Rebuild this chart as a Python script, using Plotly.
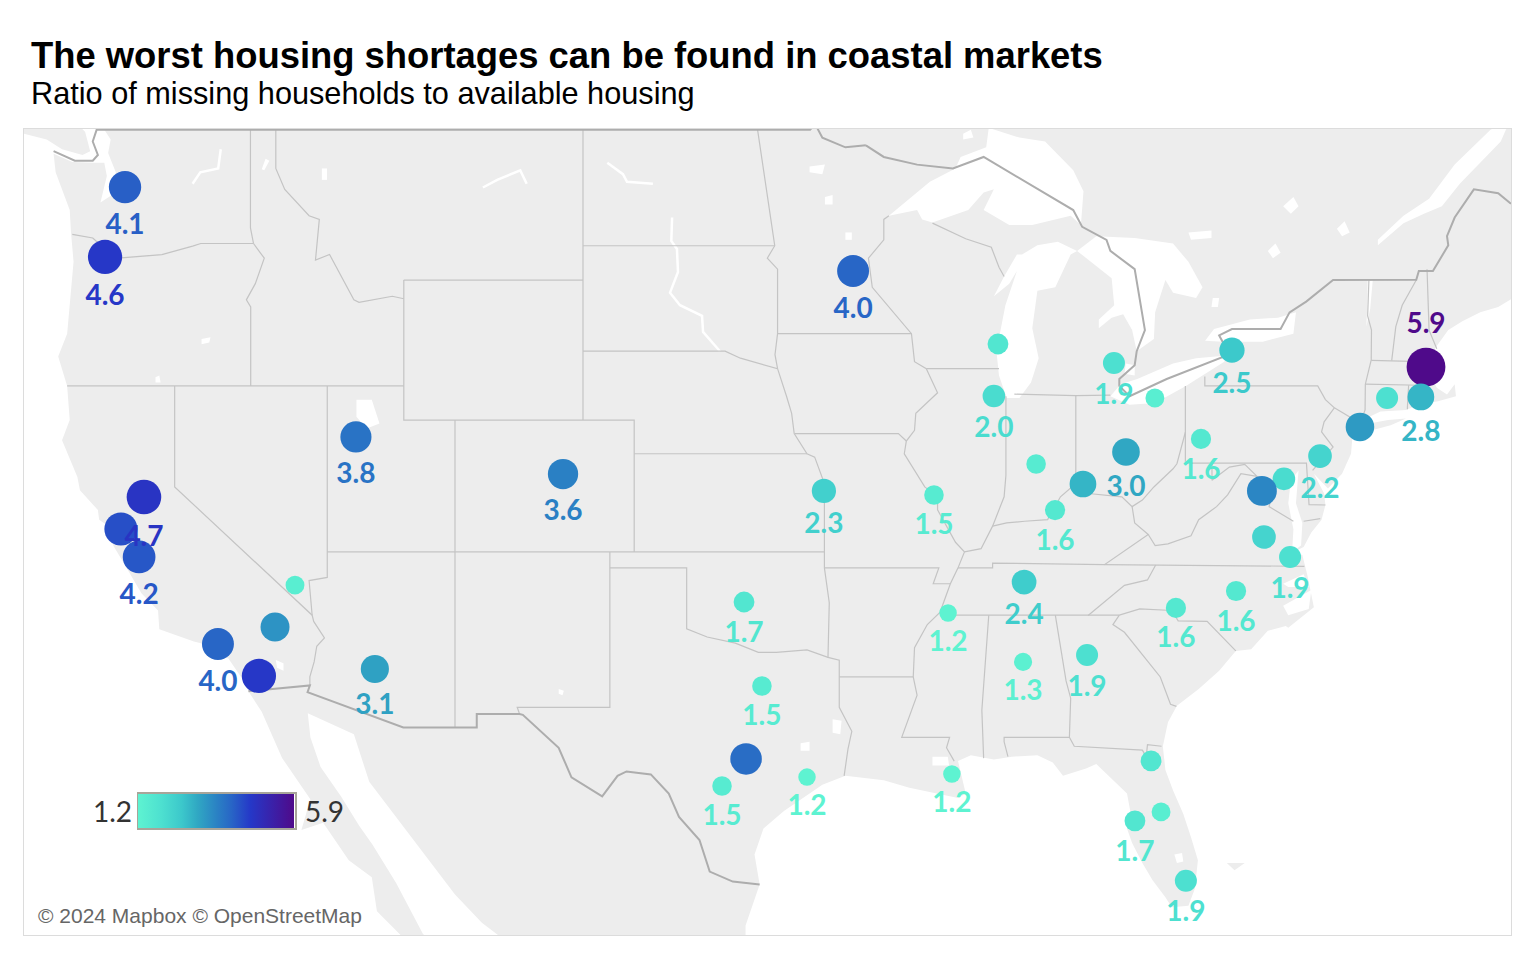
import math
import plotly.graph_objects as go
from plotly.colors import sample_colorscale

# ---------- data ----------
# longitude, web-mercator northing in degrees, ratio, printed label
lon = [-121.94,-122.72,-93.50,-87.84,-83.31,-78.70,-71.12,-72.64,-71.32,-81.71,
       -88.00,-73.70,-112.92,-82.84,-79.91,-75.26,-104.83,-86.35,-76.67,-84.52,
       -77.53,-94.64,-90.34,-121.20,-85.61,-122.10,-121.39,-77.45,-76.43,-115.30,
       -86.82,-78.54,-80.89,-89.79,-97.76,-116.08,-118.31,-86.86,-84.36,-116.71,
       -112.18,-97.06,-97.68,-98.62,-95.30,-89.64,-81.86,-81.47,-82.49,-80.50]
north = [54.13,51.40,50.85,48.00,47.26,47.76,47.10,45.89,45.93,45.89,
         45.97,44.76,44.37,43.78,44.29,43.62,42.92,43.31,42.73,42.53,
         42.26,42.26,42.10,42.02,41.51,40.77,39.68,40.46,39.68,38.58,
         38.70,38.35,37.69,37.49,37.92,36.94,36.28,35.58,35.85,35.03,
         35.30,34.64,31.79,30.73,31.08,31.20,31.71,29.72,29.37,27.03]
ratio = [4.1,4.6,4.0,1.7,1.9,2.5,5.9,1.9,2.8,1.4,
         2.0,3.2,3.8,3.0,1.6,2.2,3.6,1.5,2.0,2.8,
         3.5,2.3,1.5,4.7,1.6,4.3,4.2,2.2,1.9,1.4,
         2.4,1.6,1.6,1.2,1.7,3.3,4.0,1.3,1.9,4.6,
         3.1,1.5,3.9,1.5,1.2,1.2,1.7,1.4,1.7,1.9]
labelled = [1,1,1,0,1,1,1,0,1,0,
            1,0,1,1,1,1,1,0,0,0,
            0,1,1,1,1,0,1,0,1,0,
            1,1,1,1,1,0,1,1,1,0,
            1,1,0,1,1,1,0,0,1,1]
label_above = [6]

TITLE = "The worst housing shortages can be found in coastal markets"
SUBTITLE = "Ratio of missing households to available housing"
CREDIT = "© 2024 Mapbox © OpenStreetMap"
LEG_MIN, LEG_MAX = "1.2", "5.9"

# ---------- base map, (lon, lat) ----------
land_outline = [
 (-60,53),(-122.9,53),(-122.75,49.0),(-122.5,48.75),(-122.6,48.4),(-122.3,47.9),(-122.45,47.3),(-122.9,47.1),
 (-122.65,47.8),(-122.75,48.15),(-123.2,48.15),(-124.0,48.17),(-124.73,48.38),(-124.65,47.9),(-124.1,46.9),
 (-124.05,46.3),(-123.95,45.5),(-124.07,44.6),(-124.2,43.5),(-124.55,42.85),(-124.2,42.0),(-124.1,41.0),
 (-124.4,40.4),(-123.8,39.3),(-123.7,38.9),(-123.0,38.3),(-122.95,38.0),(-122.5,37.75),(-122.4,37.2),
 (-121.95,36.6),(-121.3,35.7),(-120.65,35.15),(-120.6,34.55),(-119.25,34.15),(-118.5,34.0),(-118.4,33.75),
 (-117.9,33.6),(-117.25,32.8),(-117.12,32.53),(-116.6,31.85),(-115.8,30.3),(-114.7,28.9),(-115.05,27.85),
 (-114.2,28.1),(-113.2,26.8),(-112.3,26.2),(-112.1,25.0),(-111.0,24.0),(-109.9,22.9),(-109.45,23.4),
 (-110.3,24.2),(-111.35,26.0),(-112.27,27.34),(-112.8,28.0),(-113.5,29.0),(-114.3,30.0),(-114.7,31.0),
 (-114.8,31.8),(-113.55,31.3),(-113.0,31.1),(-112.4,29.5),(-111.0,27.9),(-109.05,25.6),(-108,24.6),(-107,23.9),
 (-105.8,22.5),(-105,20),(-97,20),(-97.7,22.3),(-97.7,24.5),(-97.15,25.95),(-97.35,27.0),(-97.0,27.9),(-96.2,28.5),
 (-95.0,29.2),(-94.7,29.4),(-93.8,29.7),(-92.3,29.55),(-91.3,29.3),(-90.2,29.1),(-89.4,28.95),(-89.1,29.1),
 (-89.4,30.2),(-88.9,30.4),(-88.0,30.25),(-87.3,30.35),(-86.3,30.4),(-85.7,30.15),(-85.3,29.7),(-84.4,29.95),
 (-84.0,30.1),(-83.4,29.6),(-82.8,29.1),(-82.65,28.4),(-82.8,27.9),(-82.6,27.4),(-82.2,26.7),(-81.8,26.1),
 (-81.3,25.5),(-81.05,25.15),(-80.4,25.2),(-80.15,25.8),(-80.03,26.8),(-80.3,27.6),(-80.6,28.4),(-81.0,29.2),
 (-81.3,29.9),(-81.4,30.7),(-81.2,31.5),(-80.85,32.05),(-80.0,32.6),(-79.2,33.2),(-78.55,33.85),(-77.95,33.9),
 (-77.3,34.5),(-76.6,34.65),(-76.5,34.6),(-75.5,35.25),(-75.75,36.25),(-75.95,36.9),(-76.3,37.0),(-75.9,37.15),
 (-75.6,37.6),(-75.2,38.0),(-75.05,38.45),(-75.1,38.8),(-75.5,39.4),(-74.95,38.95),(-74.4,39.4),(-74.05,40.0),
 (-74.0,40.45),(-74.05,40.6),(-73.75,40.6),(-72.5,40.85),(-71.9,41.05),(-72.6,41.0),(-73.7,40.85),(-73.6,41.0),
 (-72.9,41.25),(-71.9,41.3),(-71.4,41.45),(-71.1,41.5),(-70.65,41.55),(-69.95,41.7),(-70.0,42.05),(-70.3,41.75),
 (-70.7,41.95),(-70.95,42.35),(-70.7,42.65),(-70.8,43.05),(-70.25,43.6),(-69.7,43.85),(-69.0,44.1),(-68.3,44.25),
 (-67.6,44.55),(-67.0,44.85),(-66.9,45.1),(-66.0,45.25),(-64,46),(-60,47)]
vancouver_island = [(-126.5,49.0),(-125,48.75),(-124.4,48.5),(-123.6,48.35),(-123.3,48.45),(-123.5,48.95),(-124.2,49.4),(-125,50),(-126.5,50)]
bahamas = [(-78.9,26.7),(-78.2,26.7),(-78.6,26.45)]

waters = [
 [(-92.1,46.75),(-91,46.9),(-90.8,46.65),(-90.4,46.57),(-89,46.9),(-88.4,47.37),(-88.0,47.45),(-88.4,46.9),(-87.4,46.5),
  (-86.5,46.5),(-85,46.75),(-84.6,46.5),(-84.5,47.4),(-84.9,47.95),(-86.0,48.7),(-87.0,48.8),(-88.2,49.05),(-88.3,48.55),
  (-89.3,48.3),(-89.5,48.0),(-90.5,47.65)],
 [(-87.5,41.65),(-87.0,41.65),(-86.55,42.1),(-86.25,42.8),(-86.5,43.65),(-86.3,44.7),(-85.6,44.8),(-85.0,45.7),(-84.75,45.8),
  (-85.5,46.05),(-86.3,45.95),(-86.9,45.7),(-87.1,45.7),(-87.6,45.1),(-88.0,44.55),(-87.4,44.9),(-87.1,45.25),(-87.55,44.3),
  (-87.9,43.0),(-87.8,42.3)],
 [(-84.75,45.8),(-84.1,45.45),(-83.4,45.05),(-83.3,44.3),(-83.9,43.9),(-83.9,43.65),(-83.4,43.95),(-82.95,44.05),(-82.6,43.6),
  (-82.42,43.0),(-81.75,43.35),(-81.7,44.1),(-81.3,45.0),(-81.0,44.65),(-80.1,44.5),(-79.85,44.8),(-80.4,45.5),(-81.0,46.0),
  (-82.5,46.15),(-84.0,46.2)],
 [(-83.45,41.7),(-82.7,41.45),(-81.7,41.5),(-80.5,42),(-79.0,42.7),(-78.9,42.88),(-80.1,42.8),(-81.0,42.65),(-82.4,42.2),(-83.05,42.05)],
 [(-79.75,43.3),(-79.05,43.27),(-77.5,43.27),(-76.3,43.5),(-76.2,44.1),(-76.9,43.95),(-78.0,43.9),(-79.4,43.63)],
 [(-82.85,42.65),(-82.5,42.6),(-82.5,42.3),(-82.9,42.35)],
 [(-73,45.95),(-72,46.55),(-71.2,46.8),(-70.5,47.0),(-69.8,47.6),(-68.2,48.7),(-68,49),(-67.5,49.4),(-68.6,49.0),(-70,48.1),(-71,47.2),(-72,46.75),(-73,46.1)],
 [(-76.4,39.2),(-76.1,39.5),(-76.2,38.5),(-75.95,37.9),(-76.0,37.2),(-76.35,37.0),(-76.3,37.7),(-76.5,38.5)],
 [(-76.7,36.0),(-75.9,36.3),(-75.7,35.9),(-76.5,35.9)],
 [(-76.7,35.3),(-75.6,35.8),(-75.7,35.2),(-76.5,35.0)],
 [(-112.9,41.6),(-112.3,41.6),(-112.0,40.9),(-112.5,40.75),(-112.9,41.1)],
 [(-80.95,27.0),(-80.65,27.05),(-80.6,26.75),(-80.85,26.7)],
 [(-116.05,33.55),(-115.75,33.45),(-115.75,33.2),(-116.0,33.3)],
 [(-90.4,30.35),(-89.8,30.35),(-89.75,30.05),(-90.4,30.05)],
 [(-73.4,45.0),(-73.2,45.0),(-73.3,44.2),(-73.45,43.7),(-73.42,44.2)],
 [(-79.45,44.5),(-79.2,44.5),(-79.25,44.25),(-79.5,44.25)],
 [(-80.4,46.3),(-79.5,46.35),(-79.5,46.15),(-80.3,46.1)],
 [(-116.45,48.25),(-116.3,48.2),(-116.5,47.95),(-116.6,47.98)],
 [(-114.25,48.0),(-114.05,48.0),(-114.05,47.7),(-114.25,47.7)],
 [(-95.2,48.05),(-94.6,48.1),(-94.7,47.85),(-95.2,47.9)],
 [(-94.6,47.25),(-94.3,47.3),(-94.3,47.05),(-94.6,47.05)],
 [(-93.8,46.3),(-93.55,46.3),(-93.55,46.1),(-93.8,46.1)],
 [(-118.95,43.35),(-118.6,43.4),(-118.65,43.25),(-118.95,43.2)],
 [(-120.75,42.25),(-120.6,42.3),(-120.55,42.1),(-120.75,42.1)],
 [(-95.55,30.8),(-95.2,30.85),(-95.2,30.55),(-95.55,30.55)],
 [(-94.3,31.6),(-93.95,31.55),(-94.0,31.1),(-94.3,31.15)],
 [(-105.0,32.6),(-104.8,32.55),(-104.85,32.4),(-105.0,32.45)],
 [(-89.2,48.9),(-88.9,49.0),(-88.8,48.8),(-89.2,48.75)],
 [(-77.3,45.8),(-77.0,46.0),(-76.8,45.75),(-77.1,45.6)],
 [(-74.6,46.4),(-74.3,46.6),(-74.1,46.3),(-74.4,46.2)],
 [(-76.7,47.0),(-76.3,47.25),(-76.1,47.0),(-76.4,46.8)],
]
white_rivers = [
 [(-107.96,47.5),(-107.4,47.7),(-106.5,47.95),(-106.25,47.6)],
 [(-103.1,48.15),(-102.49,47.85),(-102.33,47.65),(-101.32,47.6)],
 [(-100.57,46.7),(-100.6,46.07),(-100.38,45.85),(-100.34,45.22),(-100.65,44.65),(-100.26,44.3),(-99.4,44.0),(-99.36,43.55),(-98.7,43.0)],
 [(-119.3,47.6),(-119.0,47.9),(-118.3,48.0),(-118.2,48.5)],
]
state_lines = [
 [(-117.04,49),(-117.04,46.42),(-116.92,46.0)],
 [(-124.0,46.25),(-123.2,46.15),(-122.8,45.9),(-122.7,45.65),(-122.2,45.6),(-121.2,45.65),(-120.5,45.7),(-119.3,45.93),(-118.98,46.0),(-116.92,46.0)],
 [(-116.92,46.0),(-116.5,45.6),(-116.85,44.9),(-117.2,44.45),(-117.03,44.25),(-117.03,42.0)],
 [(-124.2,42),(-111.05,42)],
 [(-120,42),(-120,39),(-114.63,35.0),(-114.57,34.8),(-114.15,34.27),(-114.45,34.0),(-114.55,33.5),(-114.72,33.0),(-114.72,32.72)],
 [(-114.04,42),(-114.04,36.2),(-114.75,36.1),(-114.63,35.0)],
 [(-114.04,37),(-94.62,37)],
 [(-109.05,41),(-109.05,31.33)],
 [(-111.05,45),(-111.05,41),(-102.05,41),(-102.05,37)],
 [(-111.05,45),(-104.05,45)],
 [(-104.05,49),(-104.05,41)],
 [(-104.05,43),(-98.5,43),(-97.9,42.8),(-96.45,42.5),(-96.1,41.7),(-95.9,41.2),(-95.8,40.6),(-95.3,40),(-95.0,39.9),(-94.62,39.1),(-94.62,36.5),(-94.43,35.4),(-94.48,33.64)],
 [(-102.05,40),(-95.3,40)],
 [(-103,37),(-103,32),(-106.62,32),(-106.53,31.78)],
 [(-103,36.5),(-100,36.5),(-100,34.56),(-99.2,34.3),(-98.1,34.1),(-97.2,33.8),(-96.5,33.8),(-95.3,33.88),(-94.48,33.64),(-94.04,33.55),(-94.04,32),(-93.55,31.2),(-93.7,30.6),(-93.85,29.7)],
 [(-104.05,45.94),(-96.56,45.94)],
 [(-116.05,49),(-116.05,48),(-115.7,47.45),(-114.75,46.75),(-114.35,46.65),(-114.5,45.55),(-113.95,45.7),(-113.45,45.05),(-113.0,44.45),(-112.8,44.38),(-111.5,44.55),(-111.05,44.48)],
 [(-97.23,49),(-96.8,47.0),(-96.56,45.94),(-96.85,45.6),(-96.45,45.3),(-96.45,43.5),(-96.55,42.9),(-96.45,42.5)],
 [(-96.45,43.5),(-91.22,43.5)],
 [(-95.77,40.6),(-91.73,40.6),(-91.42,40.38)],
 [(-92.1,46.75),(-92.3,46.65),(-92.3,46.1),(-92.9,45.6),(-92.75,44.8),(-91.22,43.5),(-91.1,42.7),(-90.64,42.5),(-90.2,41.8),(-91.05,41.2),(-91.1,40.7),(-91.42,40.38),(-91.5,40),(-90.7,39),(-90.2,38.7),(-90.2,38.3),(-89.5,37.3),(-89.15,37.0),(-89.4,36.5),(-89.7,36.0),(-90.1,35.1),(-90.6,34.7),(-91.1,33.95),(-91.15,33.0),(-91.0,32.4),(-91.6,31.0),(-89.73,31.0),(-89.85,30.65),(-89.55,30.2)],
 [(-94.62,36.5),(-90.15,36.5),(-90.37,36.0),(-89.7,36)],
 [(-94.04,33.0),(-91.15,33.0)],
 [(-90.4,46.55),(-89.1,46.13),(-88.1,45.9),(-87.8,45.35),(-87.6,45.1)],
 [(-90.64,42.5),(-87.8,42.5)],
 [(-87.2,41.76),(-84.8,41.72),(-83.45,41.73)],
 [(-87.53,41.7),(-87.53,39.35),(-87.6,38.7),(-88.05,37.8),(-88.5,37.1),(-89.15,37.0)],
 [(-84.8,41.72),(-84.8,39.1)],
 [(-88.05,37.8),(-87.5,37.9),(-86.8,37.95),(-85.9,38.0),(-85.4,38.7),(-84.8,39.1),(-84.3,38.8),(-83.0,38.7),(-82.6,38.4),(-82.2,38.6),(-81.75,39.0),(-81.0,39.55),(-80.85,39.7),(-80.52,40.64)],
 [(-89.4,36.5),(-88.05,36.5),(-88.05,36.65),(-83.68,36.6),(-81.97,37.54),(-82.5,37.9),(-82.6,38.4)],
 [(-81.97,37.54),(-81.7,37.2),(-81.2,37.25),(-80.3,37.5),(-80.0,38.0),(-79.3,38.4),(-78.87,38.76),(-78.35,39.4),(-77.72,39.32),(-78.2,39.68),(-78.8,39.6),(-79.48,39.2),(-79.48,39.72)],
 [(-80.52,39.72),(-75.79,39.72),(-75.69,38.46),(-75.05,38.45)],
 [(-80.52,39.72),(-80.52,42.0)],
 [(-79.76,42.27),(-79.76,42),(-75.35,42),(-75.05,41.6),(-74.7,41.36),(-75.1,40.95),(-75.2,40.65),(-74.75,40.2),(-75.1,39.9),(-75.55,39.5)],
 [(-74.7,41.36),(-73.9,41.0)],
 [(-73.65,41.0),(-73.5,41.3),(-73.49,42.05),(-73.26,42.75),(-73.25,43.6),(-73.4,44),(-73.35,45.0)],
 [(-72.46,42.73),(-72.3,43.7),(-72.05,44.3),(-71.5,45.0)],
 [(-73.49,42.05),(-71.8,42.02),(-71.38,42.02),(-71.3,41.75),(-71.13,41.5)],
 [(-71.8,42.02),(-71.85,41.32)],
 [(-73.26,42.74),(-71.3,42.7),(-70.82,42.87)],
 [(-70.7,43.07),(-71.0,43.6),(-71.08,45.3)],
 [(-77.72,39.32),(-77.1,38.9),(-77.25,38.4),(-76.3,37.95)],
 [(-75.9,37.95),(-75.25,38.03)],
 [(-83.68,36.6),(-75.87,36.55)],
 [(-81.68,36.59),(-82.0,36.12),(-82.9,35.95),(-83.5,35.55),(-84.32,34.99)],
 [(-90.1,35),(-83.1,35),(-82.3,35.2),(-81.05,35.15),(-80.8,34.82),(-79.67,34.8),(-78.55,33.85)],
 [(-83.1,35),(-83.35,34.7),(-82.9,34.45),(-82.0,33.5),(-81.5,33.0),(-81.1,32.1),(-80.87,32.03)],
 [(-85.6,35),(-85.18,32.87),(-85.0,32.3),(-85.05,31.0),(-87.6,31),(-87.6,30.85),(-87.45,30.35)],
 [(-85.05,31.0),(-84.86,30.7),(-82.2,30.57),(-82.05,30.35),(-82.0,30.75),(-81.45,30.7)],
 [(-88.2,35),(-88.47,31.9),(-88.4,30.3)],
]
border_lines = [
 [(-124.73,48.45),(-123.9,48.2),(-123.2,48.2),(-123.0,48.35),(-123.2,48.7),(-123.05,49.0),(-95.15,49.0)],
 [(-93.0,48.6),(-92.3,48.3),(-91,48.1),(-89.6,48.0),(-88.4,48.3),(-84.9,46.9),(-84.55,46.45),(-83.6,46.1),(-83.45,45.8),(-82.5,45.3),(-82.1,43.6),
  (-82.42,43.0),(-82.5,42.6),(-83.1,42.2),(-83.1,42.0),(-82.7,41.7),(-81.25,42.2),(-78.9,42.88),(-79.05,43.25),(-79.2,43.45),(-78.7,43.63),(-76.8,43.63),
  (-76.45,44.1),(-75.8,44.4),(-74.75,45.0),(-71.5,45.01),(-71.4,45.25),(-70.85,45.25),(-70.25,45.95),(-70.3,46.2),(-70.0,46.7),(-69.25,47.45),(-68.3,47.35),(-67.8,47.07)],
 [(-95.15,49.0),(-95.15,49.35),(-94.7,48.8),(-93.8,48.55),(-93.0,48.6)],
 [(-117.12,32.53),(-114.72,32.72),(-114.81,32.5),(-111.07,31.33),(-108.2,31.33),(-108.2,31.78),(-106.53,31.78),(-106.4,31.75),(-105,30.65),(-104.5,29.65),(-103.3,29.0),
  (-102.7,29.7),(-102.35,29.85),(-101.4,29.75),(-100.7,29.1),(-100.3,28.3),(-99.5,27.5),(-99.1,26.4),(-98.2,26.05),(-97.15,25.95)],
]


def merc(lat):
    return math.degrees(math.log(math.tan(math.radians(45 + lat / 2))))


def poly_xy(points):
    return [p[0] for p in points], [merc(p[1]) for p in points]


def lines_xy(groups):
    xs, ys = [], []
    for g in groups:
        x, y = poly_xy(g)
        xs += x + [None]
        ys += y + [None]
    return xs, ys


COLORSCALE = [[0, "#5ef3d1"], [0.15, "#4de0d0"], [0.28, "#3cc8cb"], [0.38, "#30a8c3"], [0.51, "#2a80c4"],
              [0.6, "#2865c6"], [0.72, "#2538c8"], [1, "#4f0a8a"]]
CMIN, CMAX = 1.2, 5.9
LAND, WATER = "#ededed", "#ffffff"
SIZEREF = 2 / 255
NORTH_PER_PX = 1 / 25.6   # map units per page pixel on the y axis

fig = go.Figure()
for pts in [land_outline, vancouver_island, bahamas]:
    x, y = poly_xy(pts)
    fig.add_trace(go.Scatter(x=x, y=y, mode="lines", fill="toself", fillcolor=LAND, line=dict(width=0), hoverinfo="skip"))
for pts in waters:
    x, y = poly_xy(pts)
    fig.add_trace(go.Scatter(x=x, y=y, mode="lines", fill="toself", fillcolor=WATER, line=dict(width=0), hoverinfo="skip"))
x, y = lines_xy(white_rivers)
fig.add_trace(go.Scatter(x=x, y=y, mode="lines", line=dict(color=WATER, width=2.5), hoverinfo="skip"))
x, y = lines_xy(state_lines)
fig.add_trace(go.Scatter(x=x, y=y, mode="lines", line=dict(color="#c4c4c4", width=1.2), hoverinfo="skip"))
x, y = lines_xy(border_lines)
fig.add_trace(go.Scatter(x=x, y=y, mode="lines", line=dict(color="#adadad", width=2), hoverinfo="skip"))

colors = sample_colorscale(COLORSCALE, [(v - CMIN) / (CMAX - CMIN) for v in ratio])
texts = [f"{v:.1f}" if s else "" for v, s in zip(ratio, labelled)]
positions = ["top center" if i in label_above else "bottom center" for i in range(len(ratio))]
fig.add_trace(go.Scatter(
    x=lon, y=north, mode="markers",
    marker=dict(size=ratio, sizemode="area", sizeref=SIZEREF, opacity=1, color=ratio, cmin=CMIN, cmax=CMAX,
                colorscale=COLORSCALE, line=dict(width=0),
                colorbar=dict(orientation="h", xref="container", yref="container", x=143 / 1536, xanchor="left",
                              y=1 - 828 / 960, yanchor="bottom", len=156, lenmode="pixels", thickness=34,
                              thicknessmode="pixels", outlinewidth=0, ticks="",
                              showticklabels=False, xpad=0, ypad=0, borderwidth=0)),
    hovertemplate="%{marker.color:.1f}<extra></extra>",
))
# value labels: same points, nudged a few pixels from the marker as in the reference
label_y = [n + 2 * NORTH_PER_PX if i in label_above else n - 5 * NORTH_PER_PX for i, n in enumerate(north)]
fig.add_trace(go.Scatter(
    x=lon, y=label_y, mode="markers+text", text=texts, textposition=positions,
    textfont=dict(family="Lato", size=28, color=colors, weight=700),
    marker=dict(size=ratio, sizemode="area", sizeref=SIZEREF, opacity=0),
    hoverinfo="skip",
))

PL, PR, PT, PB = 24, 1511, 129, 935
def pa(px, py):
    return (px - PL) / (PR - PL), (PB - py) / (PB - PT)

x0, y0 = pa(138, 829)
x1, y1 = pa(296, 793)
fig.update_layout(
    width=1536, height=960, showlegend=False,
    margin=dict(l=24, r=25, t=129, b=25, autoexpand=False), paper_bgcolor="white", plot_bgcolor="white",
    title=dict(text=f"<b>{TITLE}</b>", x=31 / 1536, xanchor="left", xref="container", y=1 - 55 / 960, yanchor="middle",
               font=dict(family="Liberation Sans", size=36.4, color="#000000")),
    xaxis=dict(range=[-125.886, -67.8], visible=True, showgrid=False, zeroline=False, showticklabels=False, ticks="",
               showline=True, mirror=True, linecolor="#dcdcdc", linewidth=1),
    yaxis=dict(range=[24.91, 56.40], visible=True, showgrid=False, zeroline=False, showticklabels=False, ticks="",
               showline=True, mirror=True, linecolor="#dcdcdc", linewidth=1),
    shapes=[dict(type="rect", xref="paper", yref="paper", x0=x0, x1=x1, y0=y0, y1=y1,
                 line=dict(color="#a8a59a", width=2), fillcolor="rgba(0,0,0,0)", layer="above")],
    annotations=[
        dict(text=SUBTITLE, xref="paper", yref="paper", x=0, y=0, xanchor="left", yanchor="middle",
             font=dict(family="Liberation Sans", size=30.7, color="#000000"), showarrow=False),
        dict(text=LEG_MIN, xref="paper", yref="paper", x=0, y=0, xanchor="right", yanchor="middle",
             font=dict(family="Lato", size=28, color="#333333"), showarrow=False),
        dict(text=LEG_MAX, xref="paper", yref="paper", x=0, y=0, xanchor="left", yanchor="middle",
             font=dict(family="Lato", size=28, color="#333333"), showarrow=False),
        dict(text=CREDIT, xref="paper", yref="paper", x=0, y=0, xanchor="left", yanchor="bottom",
             font=dict(family="Liberation Sans", size=21, color="#666666"), showarrow=False,
             bgcolor="rgba(255,255,255,0.55)"),
    ],
)
for ann, (px, py) in zip(fig.layout.annotations, [(29, 93), (134, 811), (303, 811), (36, 929)]):
    ann.x, ann.y = pa(px, py)

fig.write_html("out.html", post_script="document.body.style.margin='0';", config=dict(displayModeBar=False))
